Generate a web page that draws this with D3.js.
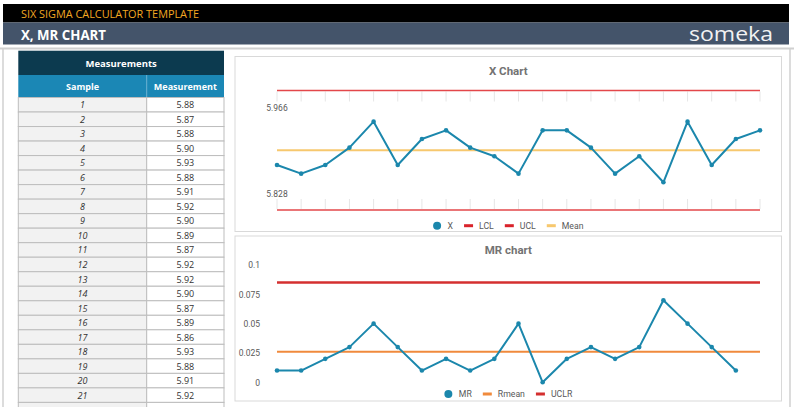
<!DOCTYPE html>
<html>
<head>
<meta charset="utf-8">
<script src="https://cdn.jsdelivr.net/npm/d3@7"></script>
<style>
  body { margin: 0; background: #fff; }
  svg { display: block; }
</style>
</head>
<body>
<script>
/* -----------------------------------------------------
 ----------------------------------------------------- */
const samples = [1, 2, 3, 4, 5, 6, 7, 8, 9, 10, 11, 12, 13, 14, 15, 16, 17, 18, 19, 20, 21];
const measurements = [5.88, 5.87, 5.88, 5.90, 5.93, 5.88, 5.91, 5.92, 5.90, 5.89, 5.87,
  5.92, 5.92, 5.90, 5.87, 5.89, 5.86, 5.93, 5.88, 5.91, 5.92];
const movingRanges = [0.01, 0.01, 0.02, 0.03, 0.05, 0.03, 0.01, 0.02, 0.01, 0.02,
  0.05, 0.00, 0.02, 0.03, 0.02, 0.03, 0.07, 0.05, 0.03, 0.01];

const xLimitNames = ["LCL", "UCL", "Mean"];
const xLimitValues = [5.828, 5.966, 5.897];
const mrLimitNames = ["Rmean", "UCLR"];
const mrLimitValues = [0.026, 0.085];

const mrTicks = [0, 0.025, 0.05, 0.075, 0.1];
const mrTickLabels = ["0", "0.025", "0.05", "0.075", "0.1"];

/* -----------------------------------------------------
 *  Initial SVG setup
 ----------------------------------------------------- */
const width = 794;
const height = 407;
const chartFont = "Roboto";
const sheetFont = "Open Sans";

const svg = d3
  .select("body")
  .append("svg")
  .attr("width", width)
  .attr("height", height);

/* -----------------------------------------------------
 *  Header bars
 ----------------------------------------------------- */
svg.append("rect").attr("x", 3).attr("y", 4).attr("width", 786).attr("height", 18.5).attr("fill", "#000");
svg.append("rect").attr("x", 3).attr("y", 22.5).attr("width", 786).attr("height", 22).attr("fill", "#44546a");

svg
  .append("text")
  .attr("x", 21)
  .attr("y", 18.3)
  .text("SIX SIGMA CALCULATOR TEMPLATE")
  .attr("fill", "#f3a822")
  .attr("textLength", 178)
  .attr("lengthAdjust", "spacingAndGlyphs")
  .style("font-family", sheetFont)
  .style("font-size", "10.5px");

svg
  .append("text")
  .attr("x", 21)
  .attr("y", 39.5)
  .text("X, MR CHART")
  .attr("fill", "#fff")
  .attr("textLength", 85)
  .attr("lengthAdjust", "spacingAndGlyphs")
  .style("font-family", sheetFont)
  .style("font-weight", "bold")
  .style("font-size", "14px");

svg
  .append("text")
  .attr("x", 689)
  .attr("y", 40.5)
  .text("someka")
  .attr("fill", "#f2f2f2")
  .attr("textLength", 84)
  .attr("lengthAdjust", "spacingAndGlyphs")
  .style("font-family", sheetFont)
  .style("font-size", "20px");

// sheet frame lines
svg.append("line").attr("x1", 0).attr("x2", width).attr("y1", 48.5).attr("y2", 48.5)
  .attr("stroke", "#d0d0d0").attr("stroke-width", 2);
svg.append("line").attr("x1", 3).attr("x2", 3).attr("y1", 48).attr("y2", height)
  .attr("stroke", "#d0d0d0").attr("stroke-width", 1.5);
svg.append("line").attr("x1", 790).attr("x2", 790).attr("y1", 48).attr("y2", height)
  .attr("stroke", "#d0d0d0").attr("stroke-width", 1.5);

/* -----------------------------------------------------
 *  Measurements table
 ----------------------------------------------------- */
const tableLeft = 18.3;
const tableMid = 146.7;
const tableRight = 224;
const rowTop = d3.scaleLinear().domain([1, 22]).range([97.5, 402.4]);
const rowH = rowTop(2) - rowTop(1);

svg.append("rect").attr("x", tableLeft).attr("y", 50.7).attr("width", tableRight - tableLeft)
  .attr("height", 24.3).attr("fill", "#0c3a4f");
svg.append("rect").attr("x", tableLeft).attr("y", 75).attr("width", tableRight - tableLeft)
  .attr("height", 22.5).attr("fill", "#1b87b5");
svg.append("line").attr("x1", tableMid).attr("x2", tableMid).attr("y1", 75).attr("y2", 97.5)
  .attr("stroke", "#6db3d3").attr("stroke-width", 1);

svg.append("text").attr("x", (tableLeft + tableRight) / 2).attr("y", 66.5)
  .attr("text-anchor", "middle").text("Measurements").attr("fill", "#fff")
  .style("font-family", sheetFont).style("font-weight", "bold").style("font-size", "9.5px");
svg.append("text").attr("x", (tableLeft + tableMid) / 2).attr("y", 89.5)
  .attr("text-anchor", "middle").text("Sample").attr("fill", "#fff")
  .style("font-family", sheetFont).style("font-weight", "bold").style("font-size", "9px");
svg.append("text").attr("x", (tableMid + tableRight) / 2).attr("y", 89.5)
  .attr("text-anchor", "middle").text("Measurement").attr("fill", "#fff")
  .style("font-family", sheetFont).style("font-weight", "bold").style("font-size", "9px");

const rows = samples.map((s, i) => ({ sample: s, value: measurements[i] }));
rows.push({ sample: samples.length + 1, value: null }); // partly visible empty row

const row = svg
  .selectAll(".row")
  .data(rows)
  .enter()
  .append("g")
  .attr("class", "row")
  .attr("transform", (d) => `translate(0,${rowTop(d.sample)})`);

row.append("rect").attr("x", tableLeft).attr("width", tableMid - tableLeft).attr("height", rowH)
  .attr("fill", "#f2f2f2").attr("stroke", "#bdbdbd").attr("stroke-width", 1);
row.append("rect").attr("x", tableMid).attr("width", tableRight - tableMid).attr("height", rowH)
  .attr("fill", "#fff").attr("stroke", "#bdbdbd").attr("stroke-width", 1);

row.filter((d) => d.value != null)
  .append("text")
  .attr("x", (tableLeft + tableMid) / 2)
  .attr("y", 10.8)
  .attr("text-anchor", "middle")
  .text((d) => d.sample)
  .attr("fill", "#333")
  .style("font-family", sheetFont)
  .style("font-style", "italic")
  .style("font-size", "9px");

row.filter((d) => d.value != null)
  .append("text")
  .attr("x", (tableMid + tableRight) / 2)
  .attr("y", 10.8)
  .attr("text-anchor", "middle")
  .text((d) => d.value.toFixed(2))
  .attr("fill", "#333")
  .style("font-family", sheetFont)
  .style("font-size", "9px");

/* -----------------------------------------------------
 *  Shared chart helpers
 ----------------------------------------------------- */
const x = d3.scaleLinear().domain([1, samples.length]).range([277, 760]);
const chartCenter = 508.3;
const blue = "#1b87ac";

function panel(y, h, title, titleY) {
  svg.append("rect").attr("x", 235).attr("y", y).attr("width", 546.5).attr("height", h)
    .attr("fill", "#fff").attr("stroke", "#d9d9d9").attr("stroke-width", 1);
  svg.append("text").attr("x", chartCenter).attr("y", titleY).attr("text-anchor", "middle")
    .text(title).attr("fill", "#737373")
    .style("font-family", chartFont).style("font-weight", "bold").style("font-size", "11.5px");
}

function limitLine(yScale, value, color, w) {
  svg.append("line")
    .attr("x1", x(samples[0])).attr("x2", x(samples[samples.length - 1]))
    .attr("y1", yScale(value)).attr("y2", yScale(value))
    .attr("stroke", color).attr("stroke-width", w);
}

function series(yScale, values) {
  const pts = values.map((v, i) => [x(samples[i]), yScale(v)]);
  svg.append("path").attr("d", d3.line()(pts)).attr("fill", "none")
    .attr("stroke", blue).attr("stroke-width", 2).attr("stroke-linejoin", "round");
  svg.selectAll(null).data(pts).enter().append("circle")
    .attr("cx", (d) => d[0]).attr("cy", (d) => d[1]).attr("r", 2.3).attr("fill", blue);
}

function legend(y, items) {
  const g = svg.append("g");
  let cx = 0;
  items.forEach((it) => {
    if (it.type === "dot") {
      g.append("circle").attr("cx", cx + 4).attr("cy", y - 3).attr("r", 4).attr("fill", it.color);
      cx += 8 + 6.5;
    } else {
      g.append("rect").attr("x", cx).attr("y", y - 4.5).attr("width", 9).attr("height", 3).attr("fill", it.color);
      cx += 9 + 6;
    }
    const t = g.append("text").attr("x", cx).attr("y", y).text(it.name).attr("fill", "#595959")
      .style("font-family", chartFont).style("font-size", "8.7px");
    cx += t.node().getComputedTextLength() + 11;
  });
  const total = cx - 11;
  g.attr("transform", `translate(${chartCenter - total / 2},0)`);
}

/* -----------------------------------------------------
 *  X chart
 ----------------------------------------------------- */
panel(56.5, 175, "X Chart", 75);
const yX = d3.scaleLinear().domain([xLimitValues[0], xLimitValues[1]]).range([210, 90.5]);

// faint category gridline stubs
samples.forEach((s) => {
  svg.append("line").attr("x1", x(s)).attr("x2", x(s)).attr("y1", yX(xLimitValues[1]) + 1).attr("y2", 101.5)
    .attr("stroke", "#e6e6e6").attr("stroke-width", 1);
  svg.append("line").attr("x1", x(s)).attr("x2", x(s)).attr("y1", 199).attr("y2", yX(xLimitValues[0]) - 1)
    .attr("stroke", "#e6e6e6").attr("stroke-width", 1);
});

limitLine(yX, xLimitValues[0], "#e3474a", 1.5);
limitLine(yX, xLimitValues[1], "#e3474a", 1.5);
limitLine(yX, xLimitValues[2], "#f7c86e", 2);
series(yX, measurements);

// data labels on first point of UCL / LCL
svg.append("text").attr("x", x(samples[0])).attr("y", yX(xLimitValues[1]) + 20.5)
  .attr("text-anchor", "middle").text(xLimitValues[1].toFixed(3)).attr("fill", "#595959")
  .style("font-family", chartFont).style("font-size", "8.5px");
svg.append("text").attr("x", x(samples[0])).attr("y", yX(xLimitValues[0]) - 13)
  .attr("text-anchor", "middle").text(xLimitValues[0].toFixed(3)).attr("fill", "#595959")
  .style("font-family", chartFont).style("font-size", "8.5px");

legend(228.7, [
  { type: "dot", name: "X", color: blue },
  { type: "dash", name: xLimitNames[0], color: "#d9232b" },
  { type: "dash", name: xLimitNames[1], color: "#d9232b" },
  { type: "dash", name: xLimitNames[2], color: "#f7c86e" },
]);

/* -----------------------------------------------------
 *  MR chart
 ----------------------------------------------------- */
panel(236, 165, "MR chart", 254);
const yMR = d3.scaleLinear().domain([0, 0.1]).range([382.3, 265]);

svg.append("g")
  .attr("transform", "translate(263,0)")
  .call(d3.axisLeft(yMR).tickValues(mrTicks).tickSize(0).tickPadding(3)
    .tickFormat((d, i) => mrTickLabels[i]))
  .call((g) => g.select(".domain").remove())
  .selectAll("text")
  .attr("fill", "#595959")
  .style("font-family", chartFont)
  .style("font-size", "8.5px");

limitLine(yMR, mrLimitValues[1], "#d42f2f", 2.5);
limitLine(yMR, mrLimitValues[0], "#f08a3c", 2);
series(yMR, movingRanges);

legend(397, [
  { type: "dot", name: "MR", color: blue },
  { type: "dash", name: mrLimitNames[0], color: "#f08a3c" },
  { type: "dash", name: mrLimitNames[1], color: "#d42f2f" },
]);
</script>
</body>
</html>
